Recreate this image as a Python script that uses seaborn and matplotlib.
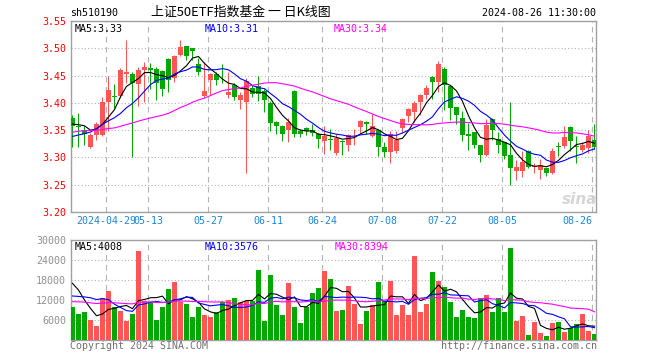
import numpy as np
import pandas as pd
import matplotlib
matplotlib.use('Agg')
import matplotlib.pyplot as plt
import seaborn as sns

# --- daily candles, 2024-04-19 .. 2024-08-26 (88 sessions) ---
open_ = [3.372, 3.358, 3.350, 3.320, 3.341, 3.342, 3.402, 3.413, 3.413, 3.453,
         3.453, 3.435, 3.460, 3.463, 3.462, 3.458, 3.4805, 3.445, 3.488, 3.504,
         3.500, 3.4707, 3.413, 3.441, 3.452, 3.446, 3.4146, 3.433, 3.4055, 3.4024,
         3.428, 3.4317, 3.422, 3.4006, 3.3646, 3.3585, 3.3506, 3.422, 3.3488, 3.3537,
         3.3506, 3.3427, 3.3305, 3.3335, 3.308, 3.3305, 3.3232, 3.346, 3.355, 3.3646,
         3.3384, 3.3506, 3.320, 3.3098, 3.3122, 3.3537, 3.375, 3.383, 3.4012, 3.4146,
         3.448, 3.4378, 3.462, 3.4317, 3.3915, 3.373, 3.3427, 3.3457, 3.322, 3.3037,
         3.3707, 3.334, 3.328, 3.3037, 3.2744, 3.2744, 3.3122, 3.2829, 3.2774, 3.2805,
         3.2713, 3.3201, 3.3201, 3.3555, 3.3207, 3.314, 3.317, 3.3323]
high = [3.378, 3.381, 3.357, 3.344, 3.365, 3.410, 3.450, 3.435, 3.463, 3.515,
        3.457, 3.466, 3.475, 3.473, 3.466, 3.460, 3.482, 3.487, 3.515, 3.505,
        3.501, 3.482, 3.474, 3.455, 3.457, 3.471, 3.456, 3.436, 3.420, 3.445,
        3.433, 3.450, 3.425, 3.404, 3.366, 3.360, 3.372, 3.423, 3.352, 3.355,
        3.361, 3.344, 3.3585, 3.352, 3.343, 3.332, 3.3427, 3.352, 3.369, 3.366,
        3.379, 3.352, 3.328, 3.3476, 3.3476, 3.373, 3.390, 3.4037, 3.416, 3.433,
        3.450, 3.4775, 3.466, 3.433, 3.393, 3.3854, 3.3628, 3.347, 3.323, 3.3707,
        3.372, 3.3463, 3.329, 3.401, 3.2957, 3.311, 3.313, 3.2896, 3.2976, 3.281,
        3.317, 3.328, 3.3585, 3.357, 3.3384, 3.328, 3.3506, 3.361]
low = [3.320, 3.320, 3.322, 3.318, 3.332, 3.340, 3.349, 3.391, 3.408, 3.436,
       3.300, 3.394, 3.402, 3.425, 3.405, 3.412, 3.4195, 3.439, 3.485, 3.479,
       3.479, 3.451, 3.410, 3.415, 3.433, 3.436, 3.409, 3.4055, 3.389, 3.271,
       3.410, 3.4037, 3.384, 3.3488, 3.3427, 3.3305, 3.329, 3.3366, 3.3366, 3.3415,
       3.3384, 3.317, 3.306, 3.314, 3.305, 3.305, 3.312, 3.322, 3.3445, 3.3427,
       3.3366, 3.3018, 3.300, 3.2896, 3.308, 3.3445, 3.3646, 3.3646, 3.378, 3.407,
       3.407, 3.4207, 3.387, 3.369, 3.361, 3.3305, 3.314, 3.317, 3.2915, 3.302,
       3.3323, 3.308, 3.2976, 3.2488, 3.259, 3.2634, 3.280, 3.2713, 3.261, 3.2652,
       3.2695, 3.3018, 3.318, 3.3122, 3.2896, 3.310, 3.308, 3.316]
close = [3.3585, 3.356, 3.343, 3.342, 3.361, 3.401, 3.423, 3.411, 3.460, 3.456,
         3.436, 3.460, 3.465, 3.461, 3.437, 3.426, 3.442, 3.485, 3.503, 3.485,
         3.495, 3.457, 3.422, 3.452, 3.442, 3.445, 3.4195, 3.410, 3.4146, 3.440,
         3.4158, 3.4158, 3.4055, 3.3628, 3.3585, 3.3427, 3.3646, 3.3427, 3.3427, 3.3488,
         3.3445, 3.334, 3.3384, 3.332, 3.3354, 3.3274, 3.3403, 3.3466, 3.366, 3.362,
         3.3585, 3.320, 3.3097, 3.3427, 3.3323, 3.3707, 3.389, 3.399, 3.4146, 3.428,
         3.4378, 3.4707, 3.433, 3.3902, 3.378, 3.3415, 3.339, 3.322, 3.3037, 3.3597,
         3.3506, 3.3232, 3.3018, 3.2805, 3.2817, 3.2909, 3.2817, 3.2835, 3.2866, 3.2713,
         3.3122, 3.3195, 3.3366, 3.3305, 3.3195, 3.322, 3.3384, 3.320]
volume = [10000, 7800, 8400, 6000, 4200, 12600, 14700, 10000, 8700, 5800,
          7800, 26800, 11700, 11300, 6000, 10000, 15300, 17400, 11500, 10800,
          6900, 10000, 7500, 7000, 8300, 11500, 12000, 12600, 11300, 11700,
          11800, 21000, 5800, 19500, 10500, 7500, 17100, 10000, 5200, 10000,
          14100, 15700, 20700, 18300, 8700, 9000, 16200, 10800, 4800, 8700,
          10500, 17400, 11700, 17700, 7500, 10500, 7500, 25200, 8400, 10800,
          20400, 17700, 15900, 11400, 6900, 9000, 6900, 6600, 12600, 13500,
          8400, 12600, 8400, 27600, 5700, 7200, 1500, 5400, 2100, 1200,
          5100, 5400, 2400, 3600, 4800, 7800, 2700, 1800]

# sessions before the first drawn candle (not drawn; estimated so the
# moving averages start where the reference has them)
pre_close = [3.30, 3.31, 3.33, 3.35, 3.36, 3.37, 3.38, 3.37, 3.36, 3.35,
             3.36, 3.37, 3.38, 3.36, 3.35, 3.34, 3.33, 3.34, 3.35, 3.34,
             3.33, 3.32, 3.31, 3.30, 3.32, 3.361, 3.353, 3.382, 3.3505]
pre_volume = [9500, 11000, 12500, 10000, 9000, 11500, 10500, 12000, 9800, 10200,
              11800, 10600, 9900, 10300, 11200, 10800, 9700, 10900, 11400, 10400,
              9000, 10000, 8500, 9500, 10000, 17800, 23400, 18500, 15300]

date_pos = [6, 13, 23, 33, 42, 52, 62, 72, 87]
date_labels = ['2024-04-29', '05-13', '05-27', '06-11', '06-24',
               '07-08', '07-22', '08-05', '08-26']
price_ticks = [3.20, 3.25, 3.30, 3.35, 3.40, 3.45, 3.50, 3.55]
vol_ticks = [6000, 12000, 18000, 24000, 30000]
ma_windows = [5, 10, 30]
ma_colors = ['black', 'blue', 'magenta']
ma_price_text = ['MA5:3.33', 'MA10:3.31', 'MA30:3.34']
ma_vol_text = ['MA5:4008', 'MA10:3576', 'MA30:8394']

RED = '#ff5555'
GREEN = '#00a800'
GRID = '#b4b4b4'
MONO = 'DejaVu Sans Mono'
plt.rcParams['font.family'] = ['DejaVu Sans Mono', 'Noto Sans CJK SC']

df = pd.DataFrame({'open': open_, 'high': high, 'low': low,
                   'close': close, 'volume': volume})
df['idx'] = np.arange(len(df))
df['dir'] = np.where(df['close'] >= df['open'], 'up', 'down')
n_pre = len(pre_close)
full_close = pd.Series(pre_close + close)
full_vol = pd.Series(pre_volume + volume)
for w in ma_windows:
    df[f'ma{w}'] = full_close.rolling(w).mean().iloc[n_pre:].to_numpy()
    df[f'vma{w}'] = full_vol.rolling(w).mean().iloc[n_pre:].to_numpy()
cols = df['dir'].map({'up': RED, 'down': GREEN})

W, H = 660, 360
fig = plt.figure(figsize=(6.6, 3.6), dpi=100)


def px_axes(x0, y0, x1, y1):
    return fig.add_axes([x0 / W, 1 - y1 / H, (x1 - x0) / W, (y1 - y0) / H])


ax1 = px_axes(70.5, 21, 596, 212)
ax2 = px_axes(70.5, 240, 596, 340)

# candles
body_lo = np.minimum(df['open'], df['close'])
body_h = np.maximum((df['close'] - df['open']).abs(), 0.0012)
ax1.vlines(df['idx'], df['low'], df['high'], colors=cols, lw=0.75, zorder=3)
ax1.bar(df['idx'], body_h, bottom=body_lo, width=0.83, color=cols, lw=0, zorder=3)
for w, c in zip(ma_windows, ma_colors):
    sns.lineplot(data=df, x='idx', y=f'ma{w}', ax=ax1, color=c, lw=0.8, zorder=4)

# volume
sns.barplot(data=df, x='idx', y='volume', hue='dir', palette={'up': RED, 'down': GREEN},
            native_scale=True, dodge=False, width=0.83, saturation=1, errorbar=None,
            legend=False, ax=ax2, zorder=3, lw=0)
for w, c in zip(ma_windows, ma_colors):
    sns.lineplot(data=df, x='idx', y=f'vma{w}', ax=ax2, color=c, lw=0.8, zorder=4)

grid_x = np.array(date_pos) - 0.42
for ax in (ax1, ax2):
    ax.set_xlim(-0.33, 87.25)
    ax.set_xlabel('')
    ax.set_ylabel('')
    ax.set_xticks(grid_x)
    ax.grid(axis='x', color=GRID, lw=0.8, ls=(0, (5, 4)))
    ax.grid(axis='y', color=GRID, lw=0.8, ls=(0, (1, 2)))
    ax.set_axisbelow(True)
    ax.tick_params(length=0)
    for s in ax.spines.values():
        s.set_color('#a0a0a0')
        s.set_linewidth(1.0)

ax1.set_ylim(3.20, 3.55)
ax1.set_yticks(price_ticks)
ax1.set_yticklabels([f'{t:.2f}' for t in price_ticks], color='#ff0000',
                    fontsize=7.2, family=MONO)
ax1.set_xticklabels(date_labels, color='#1c86d6', fontsize=7.2, family=MONO)
ax1.get_xticklabels()[-1].set_ha('right')
ax1.tick_params(axis='y', pad=3.2)
ax1.tick_params(axis='x', pad=3)

ax2.set_ylim(0, 30000)
ax2.set_yticks(vol_ticks)
ax2.set_yticklabels([str(t) for t in vol_ticks], color='#909090', fontsize=7.2, family=MONO)
ax2.tick_params(axis='y', pad=3.2)
ax2.set_xticklabels([])

# texts
def ftext(x, y, s, **kw):
    fig.text(x / W, 1 - y / H, s, va='center', **kw)


ftext(70.5, 12.5, 'sh510190', fontsize=7.2, family=MONO, color='black')
ftext(151, 12.5, '上证50ETF指数基金 一 日K线图', fontsize=9.3,
      family=['Noto Sans CJK SC', 'DejaVu Sans'], color='black')
ftext(596, 12.5, '2024-08-26 11:30:00', fontsize=7.2, family=MONO, color='black', ha='right')
for x, s, c in zip([74.5, 205, 334], ma_price_text, ma_colors):
    ftext(x, 29.5, s, fontsize=7.2, family=MONO, color=c)
for x, s, c in zip([75, 205, 335], ma_vol_text, ma_colors):
    ftext(x, 247, s, fontsize=7.2, family=MONO, color=c)
ftext(70, 346, 'Copyright 2024 SINA.COM', fontsize=7.2, family=MONO, color='#707070')
ftext(597, 346, 'http://finance.sina.com.cn', fontsize=7.2, family=MONO,
      color='#707070', ha='right')
ftext(580, 200, 'sina', fontsize=11, family='DejaVu Sans', fontstyle='italic',
      fontweight='bold', color='#d6d6d6', ha='center')

fig.savefig('out.png', dpi=100)
print('saved out.png')
